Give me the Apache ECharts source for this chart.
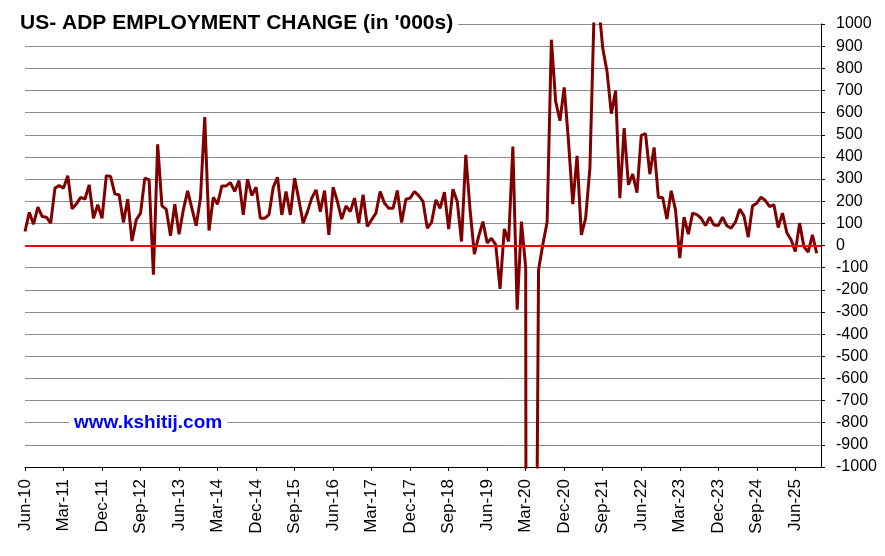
<!DOCTYPE html>
<html>
<head>
<meta charset="utf-8">
<script src="https://cdn.jsdelivr.net/npm/echarts@6/dist/echarts.min.js"></script>
<style>
html,body{margin:0;padding:0;background:#fff;}
#chart{width:885px;height:556px;}
</style>
</head>
<body>
<div id="chart"></div>
<script>
// Monthly ADP employment change ('000s), Jun-2010 .. Nov-2025
const startYear = 2010;
const startMonthIndex = 5; // June
const monthNames = ['Jan','Feb','Mar','Apr','May','Jun','Jul','Aug','Sep','Oct','Nov','Dec'];

const adpChange = [
  63, 150, 96, 173, 131, 128, 101, 259, 271, 259,
  315, 166, 187, 217, 209, 274, 123, 184, 123, 315,
  312, 232, 229, 104, 209, 20, 116, 146, 304, 296,
  -132, 457, 179, 164, 44, 187, 51, 161, 247, 168,
  89, 214, 580, 68, 217, 187, 269, 269, 284, 244,
  293, 138, 299, 226, 263, 123, 123, 138, 263, 308,
  138, 244, 138, 304, 206, 101, 153, 214, 251, 153,
  248, 48, 263, 199, 119, 179, 153, 214, 101, 229,
  86, 116, 146, 244, 191, 168, 168, 248, 104, 209,
  214, 244, 225, 199, 78, 104, 206, 168, 241, 74,
  254, 199, 18, 409, 161, -39, 41, 108, 11, 33,
  3, -196, 75, 18, 447, -290, 108, -100, -19500, -3000,
  -109, 5, 105, 929, 651, 563, 714, 470, 187, 405,
  48, 123, 349, 1070, 1100, 891, 786, 595, 699, 214,
  530, 274, 322, 239, 497, 505, 322, 443, 217, 217,
  119, 247, 161, -57, 128, 51, 146, 139, 123, 90,
  128, 93, 90, 128, 89, 78, 105, 164, 134, 38,
  179, 191, 218, 203, 176, 184, 81, 146, 59, 26,
  -27, 101, -5, -30, 48, -35
];

// category labels: one extra month at the end so the axis runs to Dec-25
const months = [];
for (let k = 0; k < adpChange.length + 1; k++) {
  const m = (startMonthIndex + k) % 12;
  const y = startYear + Math.floor((startMonthIndex + k) / 12);
  months.push(monthNames[m] + '-' + String(y % 100).padStart(2, '0'));
}

const yTicks = { min: -1000, max: 1000, step: 100 };
const titleText = "US- ADP EMPLOYMENT CHANGE (in '000s)";
const watermark = 'www.kshitij.com';

const FONT = "'Liberation Sans', Arial, sans-serif";
const chart = echarts.init(document.getElementById('chart'), null, {renderer: 'canvas'});
chart.setOption({
  animation: false,
  backgroundColor: '#ffffff',
  title: {
    text: titleText,
    left: 16,
    top: 11,
    padding: [2, 5, 2, 4],
    backgroundColor: '#ffffff',
    textStyle: {fontFamily: FONT, fontWeight: 'bold', fontSize: 21, color: '#000000'}
  },
  graphic: [{
    type: 'text',
    left: 69,
    top: 412,
    z: 100,
    style: {
      text: watermark,
      fontFamily: FONT,
      fontWeight: 'bold',
      fontSize: 19,
      fill: '#0000ff',
      backgroundColor: '#ffffff',
      padding: [1, 5, 1, 5]
    }
  }],
  grid: {left: 25, right: 64, top: 24, bottom: 89, containLabel: false},
  xAxis: {
    type: 'category',
    data: months,
    boundaryGap: false,
    axisLine: {onZero: false, lineStyle: {color: '#000000', width: 1}},
    axisTick: {show: true, interval: 8, length: 4, lineStyle: {color: '#000000'}},
    axisLabel: {
      interval: 8,
      rotate: 90,
      margin: 12,
      fontFamily: FONT,
      fontSize: 17,
      color: '#000000'
    },
    splitLine: {show: false}
  },
  yAxis: {
    type: 'value',
    position: 'right',
    min: yTicks.min,
    max: yTicks.max,
    interval: yTicks.step,
    axisLine: {show: true, lineStyle: {color: '#000000', width: 1}},
    axisTick: {show: true, length: 4, lineStyle: {color: '#000000'}},
    axisLabel: {
      margin: 15,
      fontFamily: FONT,
      fontSize: 16,
      color: '#000000',
      formatter: v => String(v)
    },
    splitLine: {show: true, lineStyle: {color: '#8c8c8c', width: 1}}
  },
  series: [{
    type: 'line',
    data: adpChange,
    showSymbol: false,
    symbol: 'none',
    clip: true,
    lineStyle: {color: '#800000', width: 3},
    itemStyle: {color: '#800000'},
    markLine: {
      silent: true,
      symbol: ['none', 'none'],
      label: {show: false},
      lineStyle: {color: '#ff0000', width: 2, type: 'solid'},
      data: [{yAxis: 0}]
    },
    z: 3
  }]
});
</script>
</body>
</html>
